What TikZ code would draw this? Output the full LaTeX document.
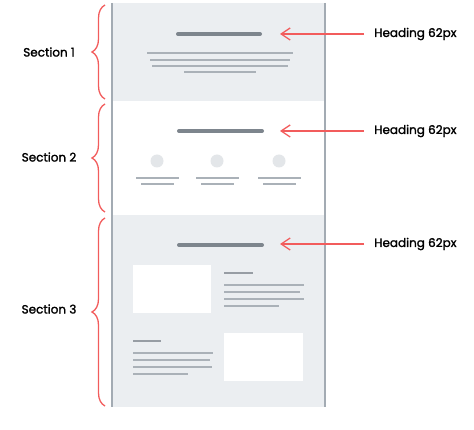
\documentclass[tikz,border=0pt]{standalone}
\usepackage{fontspec}
\setmainfont{Poppins}
\newfontfamily\labelfont{Poppins}[FakeBold=1.6]
\usepackage{xcolor}
\definecolor{pagefill}{HTML}{EBEEF1}
\definecolor{barcol}{HTML}{7D858D}
\definecolor{linecol}{HTML}{AAB1B8}
\definecolor{edgecol}{HTML}{A3ABB3}
\definecolor{dotcol}{HTML}{E3E6E9}
\definecolor{markred}{HTML}{F25C5C}
\usepackage{tikz}
\usetikzlibrary{positioning, arrows.meta, decorations.pathreplacing}
\tikzset{
    sectionlabel/.style = {font=\labelfont\fontsize{12}{14}\selectfont, text=black, inner sep=0pt},
    headlabel/.style = {font=\labelfont\fontsize{12}{14}\selectfont, text=black, inner sep=0pt, anchor=west},
    headbar/.style = {line width=4pt, line cap=round, color=barcol},
    textline/.style = {line width=1.3pt, color=linecol},
    shortline/.style = {line width=2pt, color=barcol!80},
    redarrow/.style = {-{Straight Barb[length=9pt, width=12pt]}, line width=1.3pt, color=markred},
    sectionbrace/.style = {decorate, decoration={brace, amplitude=13pt}, line width=1.3pt, color=markred},
}

\begin{document}
\begin{tikzpicture}[x=1pt, y=-1pt]
        \useasboundingbox (0,0) rectangle (474,430);
        % section backgrounds
        \fill[pagefill] (112,3) rectangle (325,101);
        \fill[white] (112,101) rectangle (325,215);
        \fill[pagefill] (112,215) rectangle (325,407);
        % page edges
        \draw[edgecol, line width=2pt] (112,3) -- (112,407);
        \draw[edgecol, line width=2pt] (325,3) -- (325,407);
        % section 1
        \draw[headbar] (178,34) -- (260,34);
        \draw[textline] (147,53) -- (293,53);
        \draw[textline] (150,60) -- (290,60);
        \draw[textline] (152,66) -- (288,66);
        \draw[textline] (184,72) -- (256,72);
        % section 2
        \draw[headbar] (179,131) -- (262,131);
        \foreach \x in {157, 217, 279} {
            \fill[dotcol] (\x,161) circle (6.5);
            \draw[textline] (\x-21,178) -- (\x+22,178);
            \draw[textline] (\x-16,184) -- (\x+17,184);
        }
        % section 3
        \draw[headbar] (179,245) -- (262,245);
        \fill[white] (133,265) rectangle (211,313);
        \draw[shortline] (224,273) -- (253,273);
        \draw[textline] (224,285) -- (304,285);
        \draw[textline] (224,292) -- (300,292);
        \draw[textline] (224,299) -- (304,299);
        \draw[textline] (224,306) -- (279,306);
        \fill[white] (224,333) rectangle (303,381);
        \draw[shortline] (133,341) -- (161,341);
        \draw[textline] (133,353) -- (213,353);
        \draw[textline] (133,360) -- (210,360);
        \draw[textline] (133,367) -- (212,367);
        \draw[textline] (133,374) -- (188,374);
        % braces and labels
        \node[sectionlabel] (s1) at (49,52) {Section 1};
        \node[sectionlabel] (s2) at (49,157) {Section 2};
        \node[sectionlabel] (s3) at (49,309) {Section 3};
        \coordinate (b1top) at (105,5);
        \coordinate (b1bot) at (105,99);
        \coordinate (b2top) at (105,104);
        \coordinate (b2bot) at (105,212);
        \coordinate (b3top) at (105,218);
        \coordinate (b3bot) at (105,406);
        \draw[sectionbrace] (b1bot) -- (b1top);
        \draw[sectionbrace] (b2bot) -- (b2top);
        \draw[sectionbrace] (b3bot) -- (b3top);
        % heading callouts
        \node[headlabel] (h1) at (374,34) {Heading 62px};
        \node[headlabel] (h2) at (374,131) {Heading 62px};
        \node[headlabel] (h3) at (374,244) {Heading 62px};
        \coordinate (a1) at (280,34);
        \coordinate (a2) at (280,131);
        \coordinate (a3) at (280,244);
        \draw[redarrow] ([xshift=-10pt]h1.west) -- (a1);
        \draw[redarrow] ([xshift=-10pt]h2.west) -- (a2);
        \draw[redarrow] ([xshift=-10pt]h3.west) -- (a3);
      \end{tikzpicture}
\end{document}
